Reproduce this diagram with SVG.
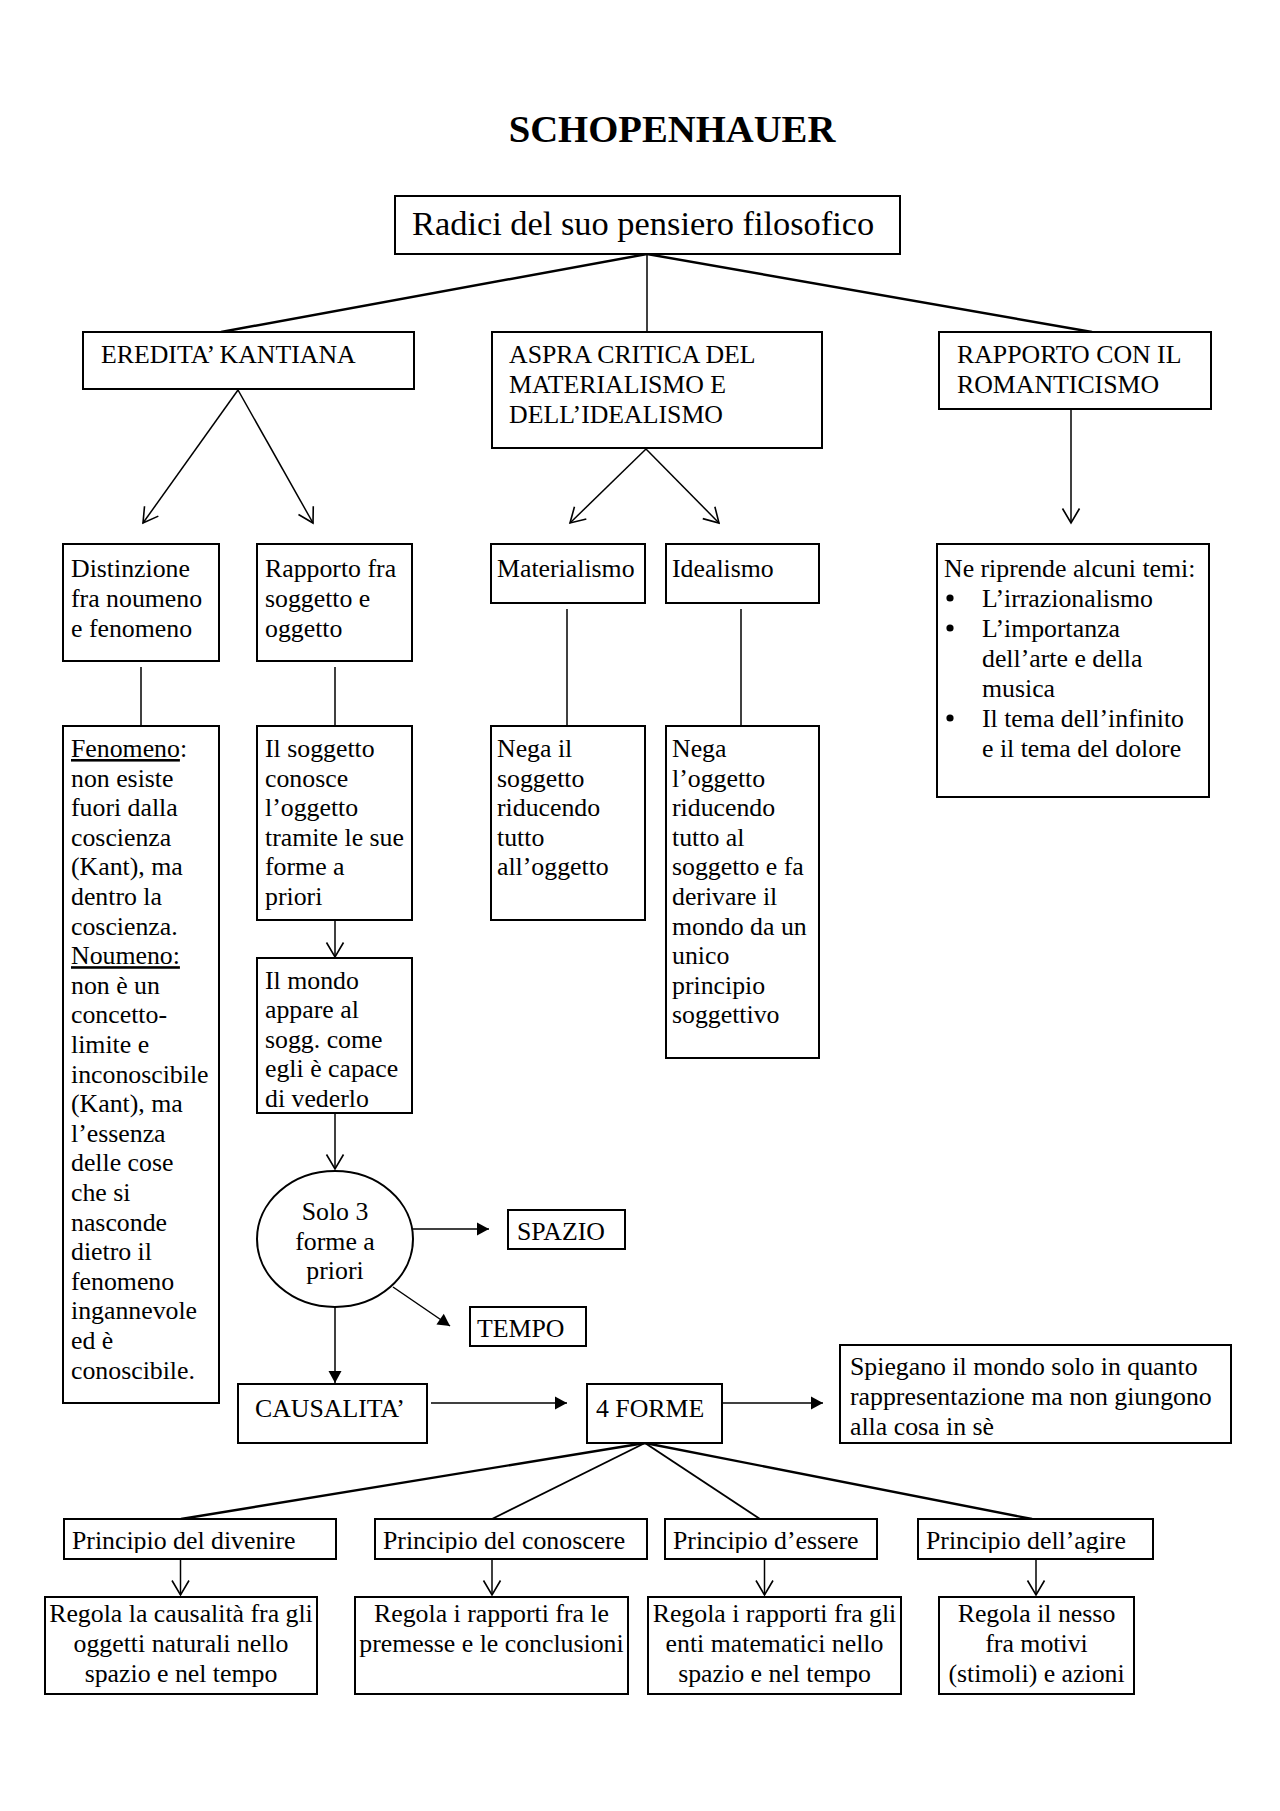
<svg xmlns="http://www.w3.org/2000/svg" width="1280" height="1811" viewBox="0 0 1280 1811">
<style>
.t{font-family:"Liberation Serif","Times New Roman",serif;font-size:25.8px;fill:#000}
.b{fill:#fff;stroke:#000;stroke-width:2}
.c{stroke:#000;stroke-width:1.5;fill:none}
.k{stroke:#000;stroke-width:2.4;fill:none}
.u{text-decoration:underline}
.m{text-anchor:middle}
</style>
<defs>
<marker id="open" markerUnits="userSpaceOnUse" viewBox="-18 -10 20 20" markerWidth="20" markerHeight="20" refX="0" refY="0" orient="auto">
<path d="M-14.5,-8.5 L0,0 L-14.5,8.5" fill="none" stroke="#000" stroke-width="1.6"/>
</marker>
<marker id="fill" markerUnits="userSpaceOnUse" viewBox="-14 -8 16 16" markerWidth="16" markerHeight="16" refX="0" refY="0" orient="auto">
<path d="M-12,-6.5 L0,0 L-12,6.5 Z" fill="#000"/>
</marker>
<clipPath id="cl1"><rect x="64" y="1519" width="272" height="34"/></clipPath>
<clipPath id="cl2"><rect x="375" y="1519" width="272" height="34"/></clipPath>
<clipPath id="cl3"><rect x="665" y="1519" width="212" height="34"/></clipPath>
<clipPath id="cl4"><rect x="918" y="1519" width="235" height="34"/></clipPath>
<clipPath id="clm"><rect x="257" y="958" width="155" height="153"/></clipPath>
</defs>
<rect x="0" y="0" width="1280" height="1811" fill="#fff"/>

<text x="672" y="142" class="t m" style="font-size:38.7px;font-weight:bold">SCHOPENHAUER</text>

<g id="connectors">
<line class="k" x1="647" y1="254" x2="221" y2="332"/>
<line class="c" x1="647" y1="254" x2="647" y2="332"/>
<line class="k" x1="647" y1="254" x2="1092" y2="332"/>
<line class="c" x1="238" y1="390" x2="143" y2="523" marker-end="url(#open)"/>
<line class="c" x1="238" y1="390" x2="313" y2="523" marker-end="url(#open)"/>
<line class="c" x1="646" y1="449" x2="570" y2="523" marker-end="url(#open)"/>
<line class="c" x1="646" y1="449" x2="719" y2="523" marker-end="url(#open)"/>
<line class="c" x1="1071" y1="409" x2="1071" y2="523" marker-end="url(#open)"/>
<line class="c" x1="141" y1="667" x2="141" y2="726"/>
<line class="c" x1="335" y1="667" x2="335" y2="726"/>
<line class="c" x1="567" y1="609" x2="567" y2="726"/>
<line class="c" x1="741" y1="609" x2="741" y2="726"/>
<line class="c" x1="335" y1="920" x2="335" y2="957" marker-end="url(#open)"/>
<line class="c" x1="335" y1="1113" x2="335" y2="1169" marker-end="url(#open)"/>
<line class="c" x1="413" y1="1229" x2="489" y2="1229" marker-end="url(#fill)"/>
<line class="c" x1="393" y1="1287" x2="450" y2="1326" marker-end="url(#fill)"/>
<line class="c" x1="335" y1="1307" x2="335" y2="1383" marker-end="url(#fill)"/>
<line class="c" x1="431" y1="1403" x2="567" y2="1403" marker-end="url(#fill)"/>
<line class="c" x1="723" y1="1403" x2="823" y2="1403" marker-end="url(#fill)"/>
<line class="k" x1="645" y1="1443" x2="181" y2="1519"/>
<line class="c" style="stroke-width:1.9" x1="645" y1="1443" x2="492" y2="1519"/>
<line class="c" style="stroke-width:1.9" x1="645" y1="1443" x2="760" y2="1519"/>
<line class="k" x1="645" y1="1443" x2="1032" y2="1519"/>
<line class="c" x1="180.5" y1="1559" x2="180.5" y2="1595" marker-end="url(#open)"/>
<line class="c" x1="492" y1="1559" x2="492" y2="1595" marker-end="url(#open)"/>
<line class="c" x1="764.5" y1="1559" x2="764.5" y2="1595" marker-end="url(#open)"/>
<line class="c" x1="1036" y1="1559" x2="1036" y2="1595" marker-end="url(#open)"/>
</g>

<g id="root">
<rect class="b" x="395" y="196" width="505" height="58"/>
<text x="412" y="235" class="t" style="font-size:34.4px">Radici del suo pensiero filosofico</text>
</g>

<g id="eredita">
<rect class="b" x="83" y="332" width="331" height="57"/>
<text x="101" y="363" class="t">EREDITA’ KANTIANA</text>
</g>

<g id="aspra">
<rect class="b" x="492" y="332" width="330" height="116"/>
<text class="t"><tspan x="509" y="363">ASPRA CRITICA DEL</tspan><tspan x="509" y="393">MATERIALISMO E</tspan><tspan x="509" y="423">DELL’IDEALISMO</tspan></text>
</g>

<g id="romanticismo">
<rect class="b" x="939" y="332" width="272" height="77"/>
<text class="t"><tspan x="957" y="363">RAPPORTO CON IL</tspan><tspan x="957" y="393">ROMANTICISMO</tspan></text>
</g>

<g id="distinzione">
<rect class="b" x="63" y="544" width="156" height="117"/>
<text class="t"><tspan x="71" y="577">Distinzione</tspan><tspan x="71" y="607">fra noumeno</tspan><tspan x="71" y="637">e fenomeno</tspan></text>
</g>

<g id="rapporto">
<rect class="b" x="257" y="544" width="155" height="117"/>
<text class="t"><tspan x="265" y="577">Rapporto fra</tspan><tspan x="265" y="607">soggetto e</tspan><tspan x="265" y="637">oggetto</tspan></text>
</g>

<g id="materialismo">
<rect class="b" x="491" y="544" width="154" height="59"/>
<text x="497" y="577" class="t">Materialismo</text>
</g>

<g id="idealismo">
<rect class="b" x="666" y="544" width="153" height="59"/>
<text x="672" y="577" class="t">Idealismo</text>
</g>

<g id="temi">
<rect class="b" x="937" y="544" width="272" height="253"/>
<text class="t"><tspan x="944" y="577">Ne riprende alcuni temi:</tspan><tspan x="982" y="607">L’irrazionalismo</tspan><tspan x="982" y="637">L’importanza</tspan><tspan x="982" y="667">dell’arte e della</tspan><tspan x="982" y="697">musica</tspan><tspan x="982" y="727">Il tema dell’infinito</tspan><tspan x="982" y="757">e il tema del dolore</tspan></text>
<circle cx="950" cy="598" r="3.6" fill="#000"/>
<circle cx="950" cy="628" r="3.6" fill="#000"/>
<circle cx="950" cy="718" r="3.6" fill="#000"/>
</g>

<g id="fenomeno">
<rect class="b" x="63" y="726" width="156" height="677"/>
<text class="t"><tspan x="71" y="757"><tspan class="u">Fenomeno</tspan>:</tspan><tspan x="71" y="786.6">non esiste</tspan><tspan x="71" y="816.2">fuori dalla</tspan><tspan x="71" y="845.8">coscienza</tspan><tspan x="71" y="875.4">(Kant), ma</tspan><tspan x="71" y="905">dentro la</tspan><tspan x="71" y="934.6">coscienza.</tspan><tspan x="71" y="964.2" class="u">Noumeno:</tspan><tspan x="71" y="993.8">non è un</tspan><tspan x="71" y="1023.4">concetto-</tspan><tspan x="71" y="1053">limite e</tspan><tspan x="71" y="1082.6">inconoscibile</tspan><tspan x="71" y="1112.2">(Kant), ma</tspan><tspan x="71" y="1141.8">l’essenza</tspan><tspan x="71" y="1171.4">delle cose</tspan><tspan x="71" y="1201">che si</tspan><tspan x="71" y="1230.6">nasconde</tspan><tspan x="71" y="1260.2">dietro il</tspan><tspan x="71" y="1289.8">fenomeno</tspan><tspan x="71" y="1319.4">ingannevole</tspan><tspan x="71" y="1349">ed è</tspan><tspan x="71" y="1378.6">conoscibile.</tspan></text>
</g>

<g id="soggetto">
<rect class="b" x="257" y="726" width="155" height="194"/>
<text class="t"><tspan x="265" y="757">Il soggetto</tspan><tspan x="265" y="786.6">conosce</tspan><tspan x="265" y="816.2">l’oggetto</tspan><tspan x="265" y="845.8">tramite le sue</tspan><tspan x="265" y="875.4">forme a</tspan><tspan x="265" y="905">priori</tspan></text>
</g>

<g id="nega-soggetto">
<rect class="b" x="491" y="726" width="154" height="194"/>
<text class="t"><tspan x="497" y="757">Nega il</tspan><tspan x="497" y="786.6">soggetto</tspan><tspan x="497" y="816.2">riducendo</tspan><tspan x="497" y="845.8">tutto</tspan><tspan x="497" y="875.4">all’oggetto</tspan></text>
</g>

<g id="nega-oggetto">
<rect class="b" x="666" y="726" width="153" height="332"/>
<text class="t"><tspan x="672" y="757">Nega</tspan><tspan x="672" y="786.6">l’oggetto</tspan><tspan x="672" y="816.2">riducendo</tspan><tspan x="672" y="845.8">tutto al</tspan><tspan x="672" y="875.4">soggetto e fa</tspan><tspan x="672" y="905">derivare il</tspan><tspan x="672" y="934.6">mondo da un</tspan><tspan x="672" y="964.2">unico</tspan><tspan x="672" y="993.8">principio</tspan><tspan x="672" y="1023.4">soggettivo</tspan></text>
</g>

<g id="mondo">
<rect class="b" x="257" y="958" width="155" height="155"/>
<text class="t" clip-path="url(#clm)"><tspan x="265" y="989">Il mondo</tspan><tspan x="265" y="1018.4">appare al</tspan><tspan x="265" y="1047.8">sogg. come</tspan><tspan x="265" y="1077.2">egli è capace</tspan><tspan x="265" y="1106.6">di vederlo</tspan></text>
</g>

<g id="forme">
<ellipse cx="335" cy="1239" rx="78" ry="68" fill="#fff" stroke="#000" stroke-width="2"/>
<text class="t m"><tspan x="335" y="1220">Solo 3</tspan><tspan x="335" y="1250">forme a</tspan><tspan x="335" y="1279">priori</tspan></text>
</g>

<g id="spazio">
<rect class="b" x="508" y="1210" width="117" height="39"/>
<text x="517" y="1240" class="t">SPAZIO</text>
</g>

<g id="tempo">
<rect class="b" x="470" y="1307" width="116" height="39"/>
<text x="477" y="1337" class="t">TEMPO</text>
</g>

<g id="causalita">
<rect class="b" x="238" y="1384" width="189" height="59"/>
<text x="255" y="1417" class="t">CAUSALITA’</text>
</g>

<g id="quattro-forme">
<rect class="b" x="587" y="1384" width="135" height="59"/>
<text x="596" y="1417" class="t">4 FORME</text>
</g>

<g id="spiegano">
<rect class="b" x="840" y="1345" width="391" height="98"/>
<text class="t"><tspan x="850" y="1375">Spiegano il mondo solo in quanto</tspan><tspan x="850" y="1405">rappresentazione ma non giungono</tspan><tspan x="850" y="1435">alla cosa in sè</tspan></text>
</g>

<g id="divenire">
<rect class="b" x="64" y="1519" width="272" height="40"/>
<text x="72" y="1549" class="t" clip-path="url(#cl1)">Principio del divenire</text>
</g>

<g id="conoscere">
<rect class="b" x="375" y="1519" width="272" height="40"/>
<text x="383" y="1549" class="t" clip-path="url(#cl2)">Principio del conoscere</text>
</g>

<g id="essere">
<rect class="b" x="665" y="1519" width="212" height="40"/>
<text x="673" y="1549" class="t" clip-path="url(#cl3)">Principio d’essere</text>
</g>

<g id="agire">
<rect class="b" x="918" y="1519" width="235" height="40"/>
<text x="926" y="1549" class="t" clip-path="url(#cl4)">Principio dell’agire</text>
</g>

<g id="regola-divenire">
<rect class="b" x="45" y="1597" width="272" height="97"/>
<text class="t m"><tspan x="181" y="1622">Regola la causalità fra gli</tspan><tspan x="181" y="1652">oggetti naturali nello</tspan><tspan x="181" y="1682">spazio e nel tempo</tspan></text>
</g>

<g id="regola-conoscere">
<rect class="b" x="355" y="1597" width="273" height="97"/>
<text class="t m"><tspan x="491.5" y="1622">Regola i rapporti fra le</tspan><tspan x="491.5" y="1652">premesse e le conclusioni</tspan></text>
</g>

<g id="regola-essere">
<rect class="b" x="648" y="1597" width="253" height="97"/>
<text class="t m"><tspan x="774.5" y="1622">Regola i rapporti fra gli</tspan><tspan x="774.5" y="1652">enti matematici nello</tspan><tspan x="774.5" y="1682">spazio e nel tempo</tspan></text>
</g>

<g id="regola-agire">
<rect class="b" x="939" y="1597" width="195" height="97"/>
<text class="t m"><tspan x="1036.5" y="1622">Regola il nesso</tspan><tspan x="1036.5" y="1652">fra motivi</tspan><tspan x="1036.5" y="1682">(stimoli) e azioni</tspan></text>
</g>
</svg>
